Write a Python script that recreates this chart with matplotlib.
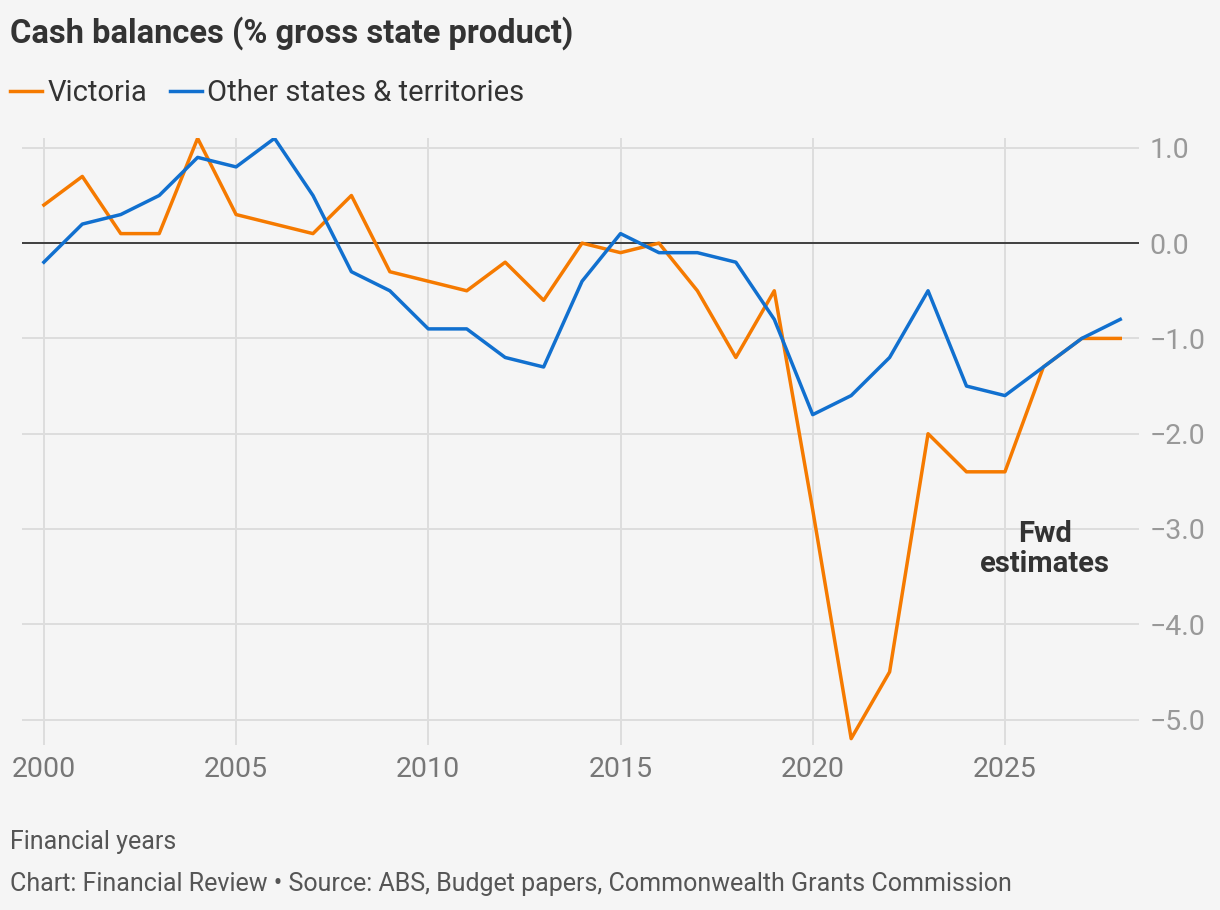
import matplotlib
matplotlib.use("Agg")
import matplotlib.pyplot as plt
from matplotlib.ticker import FuncFormatter

plt.rcParams['font.family'] = ['Roboto', 'DejaVu Sans']

# Data
years = list(range(2000, 2029))
victoria = [0.4, 0.7, 0.1, 0.1, 1.1, 0.3, 0.2, 0.1, 0.5, -0.3,
            -0.4, -0.5, -0.2, -0.6, 0.0, -0.1, 0.0, -0.5, -1.2, -0.5,
            -2.8, -5.2, -4.5, -2.0, -2.4, -2.4, -1.3, -1.0, -1.0]
others = [-0.2, 0.2, 0.3, 0.5, 0.9, 0.8, 1.1, 0.5, -0.3, -0.5,
          -0.9, -0.9, -1.2, -1.3, -0.4, 0.1, -0.1, -0.1, -0.2, -0.8,
          -1.8, -1.6, -1.2, -0.5, -1.5, -1.6, -1.3, -1.0, -0.8]
x_ticks = [2000, 2005, 2010, 2015, 2020, 2025]
y_ticks = [1.0, 0.0, -1.0, -2.0, -3.0, -4.0, -5.0]

bg = '#f5f5f5'
orange = '#f57a00'
blue = '#1170cf'

fig = plt.figure(figsize=(12.2, 9.1), dpi=100, facecolor=bg)
ax = fig.add_axes([0.018, 0.181, 0.916, 0.667], facecolor=bg)

ax.plot(years, victoria, color=orange, lw=2.5, label='Victoria', zorder=3)
ax.plot(years, others, color=blue, lw=2.5, label='Other states & territories', zorder=3)
ax.axhline(0, color='#333333', lw=1.3, zorder=2)

ax.set_xlim(1999.43, 2028.5)
ax.set_ylim(-5.27, 1.1)
ax.set_xticks(x_ticks)
ax.set_yticks(y_ticks)
ax.yaxis.tick_right()
ax.yaxis.set_major_formatter(FuncFormatter(lambda v, p: f"{v:.1f}".replace('-', '\u2212')))
ax.grid(True, color='#dddddd', lw=1.4, zorder=0)
ax.tick_params(axis='both', length=0, labelsize=20.5)
ax.tick_params(axis='y', pad=7, labelcolor='#999999')
ax.tick_params(axis='x', pad=8, labelcolor='#777777')
for s in ax.spines.values():
    s.set_visible(False)

ax.text(2026.05, -3.21, 'Fwd\nestimates', ha='center', va='center',
        fontsize=21, fontweight='bold', color='#333333', linespacing=1.1)

fig.text(0.008, 0.964, 'Cash balances (% gross state product)', fontsize=23.5,
         fontweight='bold', color='#333333', va='center')
fig.legend(loc='center left', bbox_to_anchor=(0.0082, 0.898), ncol=2, frameon=False,
           fontsize=21, handlelength=1.1, handletextpad=0.2, columnspacing=0.75,
           borderaxespad=0, borderpad=0, labelcolor='#333333')
fig.text(0.008, 0.0747, 'Financial years', fontsize=18, color='#555555', va='center')
fig.text(0.008, 0.0286, 'Chart: Financial Review \u2022 Source: ABS, Budget papers, Commonwealth Grants Commission',
         fontsize=18, color='#555555', va='center')

fig.savefig('out.png', dpi=100, facecolor=bg)
